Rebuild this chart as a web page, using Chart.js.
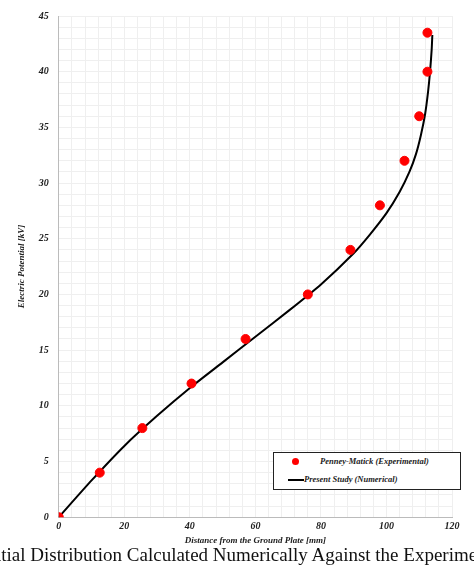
<!DOCTYPE html>
<html lang="en">
<head>
<meta charset="UTF-8">
<title>Electric Potential</title>
<script src="https://cdn.jsdelivr.net/npm/chart.js"></script>
<style>
    body { margin: 0; background: #fff; overflow: hidden; }
    .wrap { position: relative; width: 474px; height: 546px; }
    .legend {
        position: absolute; left: 273px; top: 452px; width: 186px; height: 36px;
        border: 1px solid #222; background: #fff;
        font: italic bold 8.5px "Times New Roman", "Liberation Serif", serif; color: #222;
    }
    .legend div { position: absolute; left: 46px; }
    .caption {
        position: absolute; left: -22px; top: 544px; white-space: nowrap;
        font: 19px "Times New Roman", "Liberation Serif", serif; color: #111;
    }
</style>
</head>
<body>
<div class="wrap">
    <canvas id="chart" width="474" height="546"></canvas>
    <div class="legend">
        <span style="position:absolute;left:18px;top:5px;width:7px;height:7px;border-radius:50%;background:#f00"></span>
        <div style="top:3px">Penney-Matick (Experimental)</div>
        <span style="position:absolute;left:14px;top:26px;width:16px;height:2px;background:#000"></span>
        <div style="top:21px;left:30px">Present Study (Numerical)</div>
    </div>
</div>
<div class="caption">tential Distribution Calculated Numerically Against the Experimental</div>
<script>
const expX = [0, 12.5, 25.5, 40.5, 57, 76, 89, 98, 105.5, 110, 112.5, 112.5];
const expY = [0, 4, 8, 12, 16, 20, 24, 28, 32, 36, 40, 43.5];
const numX = [0, 10, 20, 30, 40, 50, 60, 70, 80, 90, 95, 100, 104, 107, 109, 110.5, 111.8, 112.7, 113.3, 113.8, 114];
const numY = [0, 3.3, 6.4, 9.1, 11.6, 13.9, 16.2, 18.5, 20.9, 23.7, 25.4, 27.3, 29.2, 31.0, 32.6, 34.3, 36.2, 38.2, 40.0, 42.0, 43.3];

const tickFont = { family: "'Times New Roman', 'Liberation Serif', serif", style: "italic", weight: "bold", size: 10 };
const toPts = (xs, ys) => xs.map((x, i) => ({ x: x, y: ys[i] }));

new Chart(document.getElementById("chart"), {
    type: "scatter",
    data: {
        datasets: [
            { label: "Penney-Matick (Experimental)", data: toPts(expX, expY),
              backgroundColor: "#f00", borderColor: "#f00", pointRadius: 4.5, order: 0 },
            { label: "Present Study (Numerical)", data: toPts(numX, numY), showLine: true,
              borderColor: "#000", borderWidth: 2, pointRadius: 0, tension: 0.2, order: 1 }
        ]
    },
    options: {
        responsive: false,
        animation: false,
        layout: { padding: { top: 3, right: 22, left: 14 } },
        plugins: { legend: { display: false }, tooltip: { enabled: false } },
        scales: {
            x: {
                min: 0, max: 120,
                ticks: { stepSize: 20, font: tickFont, color: "#222" },
                grid: { color: "#d8d8d8", drawTicks: false },
                border: { color: "#bbb" },
                title: { display: true, text: "Distance from the Ground Plate [mm]", font: { ...tickFont, size: 9 }, color: "#222", padding: 0 }
            },
            xm: {
                type: "linear", position: "bottom", min: 0, max: 120, display: true,
                ticks: { display: false, stepSize: 4 },
                grid: { color: "#efefef", drawTicks: false },
                border: { display: false }
            },
            y: {
                min: 0, max: 45,
                ticks: { stepSize: 5, font: tickFont, color: "#222", padding: 10 },
                grid: { color: "#d8d8d8", drawTicks: false },
                border: { color: "#bbb" },
                title: { display: true, text: "Electric Potential [kV]", font: { ...tickFont, size: 9 }, color: "#222", padding: 2 }
            },
            ym: {
                type: "linear", position: "left", min: 0, max: 45, display: true,
                ticks: { display: false, stepSize: 1 },
                grid: { color: "#efefef", drawTicks: false },
                border: { display: false }
            }
        }
    }
});
</script>
</body>
</html>
